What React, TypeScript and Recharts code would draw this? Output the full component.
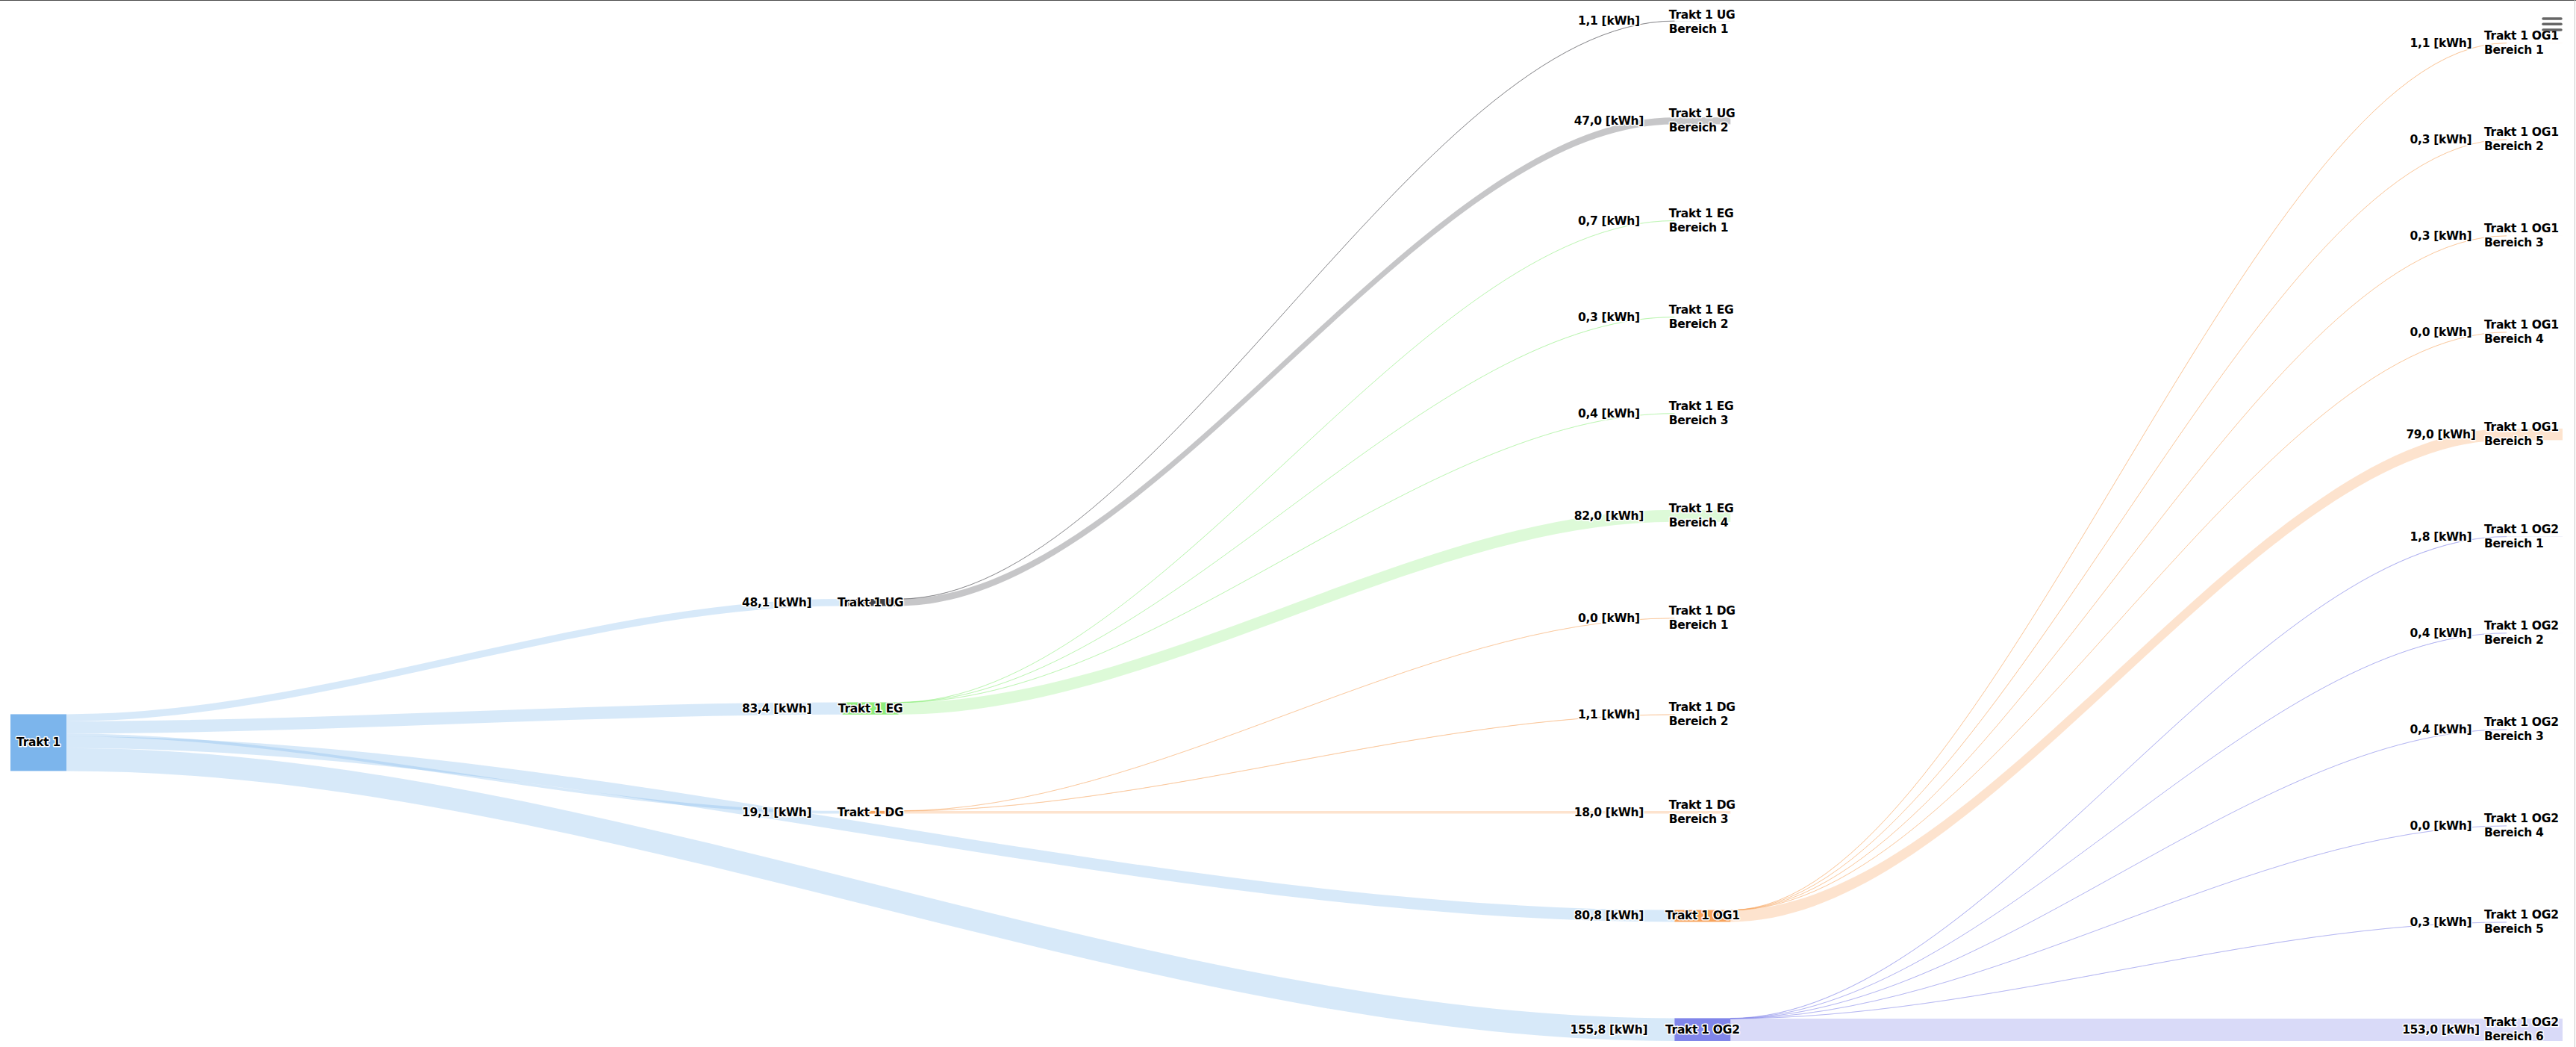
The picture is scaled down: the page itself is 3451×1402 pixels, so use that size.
import React from 'react';
import { Sankey } from 'recharts';

// ---------- data ----------
const rootName = 'Trakt 1';
const floorNames = ['Trakt 1 UG', 'Trakt 1 EG', 'Trakt 1 DG', 'Trakt 1 OG1', 'Trakt 1 OG2'];
const floorValues = [48.1, 83.4, 19.1, 80.8, 155.8];
// floors drawn one column further right (reached through an invisible pass-through node)
const deferredFloors = ['Trakt 1 OG1', 'Trakt 1 OG2'];

const ugAreaValues = [1.1, 47.0];
const egAreaValues = [0.7, 0.3, 0.4, 82.0];
const dgAreaValues = [0.0, 1.1, 18.0];
const og1AreaValues = [1.1, 0.3, 0.3, 0.0, 79.0];
const og2AreaValues = [1.8, 0.4, 0.4, 0.0, 0.3, 153.0];
const areaValuesByFloor = [ugAreaValues, egAreaValues, dgAreaValues, og1AreaValues, og2AreaValues];
const areaWord = 'Bereich';
const unit = '[kWh]';

// ---------- styles ----------
const nodeColors: Record<string, string> = {
  'Trakt 1': '#7cb5ec',
  'Trakt 1 UG': '#434348',
  'Trakt 1 EG': '#90ed7d',
  'Trakt 1 DG': '#f7a35c',
  'Trakt 1 OG1': '#f7a35c',
  'Trakt 1 OG2': '#8085e9',
};
const LINK_OPACITY = 0.3;
const FONT = "'DejaVu Sans', Verdana, sans-serif";
const FONT_SIZE = 15.5;

const CHART_W = 3451;
const CHART_H = 1402;
const MARGIN = { top: 28, right: 18, bottom: 8, left: 14 };

// ---------- build sankey table ----------
type N = { name: string; kind: string; color: string; inValue: number; line1?: string; line2?: string };
const nodes: N[] = [];
const links: { source: number; target: number; value: number }[] = [];
const passLinks: { source: number; target: number; value: number }[] = [];
const areaLinks: { source: number; target: number; value: number }[] = [];

nodes.push({ name: rootName, kind: 'root', color: nodeColors[rootName], inValue: 0 });
const floorIndex: number[] = [];
const passIndex: number[] = [];
floorNames.forEach((f, i) => {
  if (deferredFloors.includes(f)) {
    nodes.push({ name: f + ' (pass)', kind: 'pass', color: nodeColors[rootName], inValue: floorValues[i] });
    passIndex[i] = nodes.length - 1;
    links.push({ source: 0, target: passIndex[i], value: floorValues[i] });
  } else {
    nodes.push({ name: f, kind: 'floor', color: nodeColors[f], inValue: floorValues[i] });
    floorIndex[i] = nodes.length - 1;
    links.push({ source: 0, target: floorIndex[i], value: floorValues[i] });
  }
});
const addAreas = (i: number) => {
  const f = floorNames[i];
  areaValuesByFloor[i].forEach((v, k) => {
    nodes.push({
      name: `${f} ${areaWord} ${k + 1}`,
      kind: 'area',
      color: nodeColors[f],
      inValue: v,
      line1: f,
      line2: `${areaWord} ${k + 1}`,
    });
    areaLinks.push({ source: floorIndex[i], target: nodes.length - 1, value: v });
  });
};
floorNames.forEach((f, i) => {
  if (!deferredFloors.includes(f)) addAreas(i);
});
floorNames.forEach((f, i) => {
  if (deferredFloors.includes(f)) {
    nodes.push({ name: f, kind: 'floor', color: nodeColors[f], inValue: floorValues[i] });
    floorIndex[i] = nodes.length - 1;
    passLinks.push({ source: passIndex[i], target: floorIndex[i], value: floorValues[i] });
  }
});
floorNames.forEach((f, i) => {
  if (deferredFloors.includes(f)) addAreas(i);
});
const sankeyData = { nodes, links: [...links, ...passLinks, ...areaLinks] };

const fmt = (v: number) => `${v.toFixed(1).replace('.', ',')} ${unit}`;

// ---------- renderers ----------
const passStart: Record<string, { x: number; y: number }> = {};

const textStyle = {
  fontFamily: FONT,
  fontSize: FONT_SIZE,
  fontWeight: 'bold' as const,
  letterSpacing: -0.3,
  fill: '#000',
  stroke: '#fff',
  strokeWidth: 3,
  strokeLinejoin: 'round' as const,
  paintOrder: 'stroke' as const,
};

const renderLink = (p: any) => {
  const { sourceX, targetX, sourceY, targetY, linkWidth, payload, index } = p;
  const src = payload.source;
  const tgt = payload.target;
  if (tgt.kind === 'pass') {
    passStart[tgt.name] = { x: sourceX, y: sourceY };
    return <g key={`l${index}`} />;
  }
  let sx = sourceX;
  let sy = sourceY;
  if (src.kind === 'pass' && passStart[src.name]) {
    sx = passStart[src.name].x;
    sy = passStart[src.name].y;
  }
  const color = src.color;
  const w = linkWidth;
  const c = (targetX - sx) * 0.33;
  const t0 = sy - w / 2;
  const t1 = targetY - w / 2;
  const d = `M${sx},${t0} C${sx + c},${t0} ${targetX - c},${t1} ${targetX},${t1} L${targetX},${t1 + w} C${targetX - c},${t1 + w} ${sx + c},${t0 + w} ${sx},${t0 + w} Z`;
  const thin = w < 1;
  return (
    <path
      key={`l${index}`}
      d={d}
      fill={color}
      fillOpacity={LINK_OPACITY}
      stroke={color}
      strokeOpacity={thin ? 0.35 : 0}
      strokeWidth={thin ? 1 : 0}
    />
  );
};

const renderNode = (p: any) => {
  const { x, y, width, height, payload, index } = p;
  if (payload.kind === 'pass') return <g key={`n${index}`} />;
  const cx = x + width / 2;
  const cy = y + height / 2;
  const plotRight = CHART_W - MARGIN.right - 6;
  if (payload.kind === 'root') {
    return (
      <g key={`n${index}`}>
        <rect x={x} y={y} width={width} height={height} fill={payload.color} />
        <text x={cx} y={cy} textAnchor="middle" dominantBaseline="central" style={textStyle}>
          {payload.name}
        </text>
      </g>
    );
  }
  const valueLabel = (
    <text x={x - 88} y={cy} textAnchor="middle" dominantBaseline="central" style={textStyle}>
      {fmt(payload.inValue)}
    </text>
  );
  if (payload.kind === 'floor') {
    return (
      <g key={`n${index}`}>
        <rect x={x} y={y} width={width} height={Math.max(height, 1)} fill={payload.color} />
        {valueLabel}
        <text x={cx} y={cy} textAnchor="middle" dominantBaseline="central" style={textStyle}>
          {payload.name}
        </text>
      </g>
    );
  }
  const w1 = payload.line1.length * 9;
  const sx = Math.min(cx - w1 / 2, plotRight - w1);
  const l1 = Math.min(Math.max(cy - 9.5, 20), CHART_H - 30);
  return (
    <g key={`n${index}`}>
      <rect x={x} y={y} width={width} height={height} fill={payload.color} fillOpacity={LINK_OPACITY} />
      {valueLabel}
      <text x={sx} y={l1} textAnchor="start" dominantBaseline="central" style={textStyle}>
        {payload.line1}
      </text>
      <text x={sx} y={l1 + 19} textAnchor="start" dominantBaseline="central" style={textStyle}>
        {payload.line2}
      </text>
    </g>
  );
};

export default function App() {
  return (
    <div style={{ position: 'absolute', left: 0, top: 0, width: CHART_W, height: CHART_H, background: '#fff' }}>
      <Sankey
        width={CHART_W}
        height={CHART_H}
        data={sankeyData}
        margin={MARGIN}
        nodeWidth={75}
        nodePadding={129}
        align="left"
        sort={false}
        link={renderLink}
        node={renderNode}
        isAnimationActive={false}
      />
      <div style={{ position: 'absolute', left: 0, top: 0, width: CHART_W, height: 1, background: '#4d4d4d' }} />
      <div style={{ position: 'absolute', left: CHART_W - 2, top: 0, width: 1, height: CHART_H, background: '#c8c8c8' }} />
      <svg style={{ position: 'absolute', left: 3400, top: 15, width: 40, height: 35 }}>
        {[10, 17.3, 25].map((yy) => (
          <line key={yy} x1={7} x2={31} y1={yy} y2={yy} stroke="#666" strokeWidth={3.5} strokeLinecap="round" />
        ))}
      </svg>
    </div>
  );
}
